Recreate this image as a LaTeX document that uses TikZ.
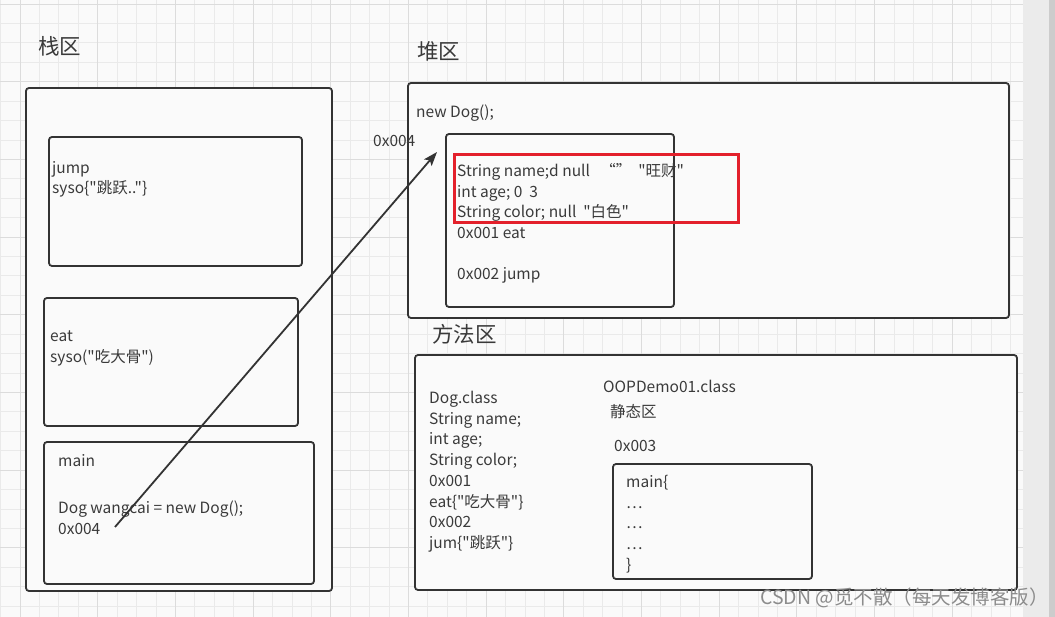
\documentclass[tikz,border=0pt]{standalone}
\usepackage{fontspec}
\newfontfamily\cjk{Noto Sans CJK SC}
\usetikzlibrary{arrows.meta}
\definecolor{gridbg}{HTML}{FAFAFA}
\definecolor{gridminor}{HTML}{EAEAEA}
\definecolor{gridmajor}{HTML}{DCDCDC}
\definecolor{edge}{HTML}{333333}
\definecolor{ink}{HTML}{3A3A3A}
\definecolor{hilite}{HTML}{E3202B}

\begin{document}
\begin{tikzpicture}[x=1pt, y=-1pt,
	box/.style={draw=edge, line width=1.8pt, rounded corners=3pt, fill=gridbg, anchor=north west, outer sep=0pt, inner sep=0pt},
	txt/.style={anchor=north west, inner sep=0pt, align=left, text=ink, font=\cjk\fontsize{15.5}{20.7}\selectfont},
	title/.style={anchor=north west, inner sep=0pt, text=ink, font=\cjk\fontsize{21.5}{24}\selectfont},
	>={Stealth[length=14pt, width=10pt, inset=3pt]}]
	\useasboundingbox (0,0) rectangle (1055,617);
	% grid paper
	\fill[gridbg] (0,0) rectangle (1023,617);
	\fill[black!8] (1023,0) rectangle (1049,617);
	\fill[black!20] (1049,0) rectangle (1055,617);
	\foreach \i in {0,...,52} {\draw[gridminor, line width=0.8pt] (0.6+19.42*\i,0) -- (0.6+19.42*\i,617);}
	\foreach \j in {0,...,31} {\draw[gridminor, line width=0.8pt] (0,4+19.42*\j) -- (1023,4+19.42*\j);}
	\foreach \i in {0,...,12} {\draw[gridmajor, line width=0.8pt] (20+77.68*\i,0) -- (20+77.68*\i,617);}
	\foreach \j in {0,...,7} {\draw[gridmajor, line width=0.8pt] (0,4+77.68*\j) -- (1023,4+77.68*\j);}

	% stack
	\node[title] (stacktitle) at (38,36) {栈区};
	\node[box, minimum width=306, minimum height=503] (stack) at (26,88) {};
	\node[box, minimum width=253, minimum height=129] (jumpframe) at (49,137) {};
	\node[txt] (jumptext) at (52,161) {jump\\syso\{"跳跃.."\}};
	\node[box, minimum width=254, minimum height=128] (eatframe) at (44,298) {};
	\node[txt] (eattext) at (50,331) {eat\\syso("吃大骨")};
	\node[box, minimum width=270, minimum height=142] (mainframe) at (44,442) {};
	\node[txt] (maintext) at (58,454) {main};
	\node[txt] (wangcai) at (58,501) {Dog wangcai = new Dog();\\0x004};

	% heap
	\node[title] (heaptitle) at (417,41) {堆区};
	\node[box, minimum width=601, minimum height=235] (heap) at (408,83) {};
	\node[txt] (newdog) at (416,105) {new Dog();};
	\node[txt] (addr) at (373,135) {0x004};
	\node[box, minimum width=228, minimum height=173] (dogobj) at (446,134) {};
	\node[txt] (fields) at (457,163) {String name;d null \ \ “” \ "旺财"\\int age; 0 \ 3\\String color; null \ "白色"\\0x001 eat\\[20.7pt]0x002 jump};
	\node[draw=hilite, line width=3pt, anchor=north west, minimum width=284, minimum height=68, outer sep=0pt] (hot) at (454,155) {};

	% method area
	\node[title] (methodtitle) at (432,324) {方法区};
	\node[box, minimum width=602, minimum height=235] (method) at (415,355) {};
	\node[txt] (dogclass) at (429,391) {Dog.class\\String name;\\int age;\\String color;\\0x001\\eat\{"吃大骨"\}\\0x002\\jum\{"跳跃"\}};
	\node[txt] (demo) at (603,380) {OOPDemo01.class};
	\node[txt] (static) at (610,404) {静态区};
	\node[txt] (addrmain) at (614,440) {0x003};
	\node[box, minimum width=199, minimum height=115] (mainfn) at (613,464) {};
	\node[txt] (mainbody) at (626,475) {main\{\\…\\…\\…\\\}};

	% reference from wangcai to the object
	\coordinate (wcref) at (115,527);
	\coordinate (objref) at (437,152);
	\draw[edge, line width=1.8pt, ->] (wcref) -- (objref);

	\node[anchor=west, inner sep=0pt, text=black!45, font=\cjk\fontsize{19.5}{22}\selectfont] (mark) at (760,598) {CSDN @觅不散（每天发博客版）};
\end{tikzpicture}
\end{document}
